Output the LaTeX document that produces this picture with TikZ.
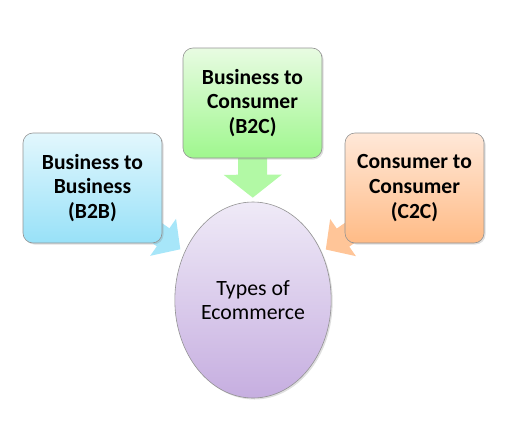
\documentclass[tikz,border=0pt]{standalone}
\usepackage{fontspec}
\setmainfont{Carlito}
\usetikzlibrary{positioning,shapes.geometric,arrows.meta,backgrounds,shadows}
\definecolor{btobtop}{HTML}{E2F7FD}
\definecolor{btobbot}{HTML}{98E1F8}
\definecolor{btoctop}{HTML}{E8FBE2}
\definecolor{btocbot}{HTML}{9FF78E}
\definecolor{ctoctop}{HTML}{FFE8D8}
\definecolor{ctocbot}{HTML}{FFBB86}
\definecolor{ecomtop}{HTML}{EFEAF7}
\definecolor{ecombot}{HTML}{C6AEE0}
\tikzset{
  module/.style={align=center, draw=gray!85, line width=0.6pt, drop shadow={shadow xshift=1.5pt, shadow yshift=-1.5pt, opacity=0.25, fill=gray}},
  type module/.style={module, rounded corners=10pt, minimum width=139pt, minimum height=110pt, font=\bfseries\fontsize{21.6}{24.8}\selectfont},
  center module/.style={module, ellipse, minimum width=154pt, minimum height=196pt, font=\fontsize{21.8}{24}\selectfont, top color=ecomtop, bottom color=ecombot},
  flow arrow/.style={line width=#1, shorten >=5pt},
  flow arrow/.default=22pt,
}
\begin{document}
\begin{tikzpicture}[x=1pt,y=-1pt]
\useasboundingbox (0,0) rectangle (510,423);
%the nodes
\node[center module] (mEcom) at (253,300) {Types of\\Ecommerce};
\node[type module, top color=btobtop, bottom color=btobbot] (mB2B) at (92.5,188) {Business to\\Business\\(B2B)};
\node[type module, top color=btoctop, bottom color=btocbot] (mB2C) at (252.5,103) {Business to\\Consumer\\(B2C)};
\node[type module, top color=ctoctop, bottom color=ctocbot] (mC2C) at (414.5,188) {Consumer to\\Consumer\\(C2C)};
%drawings of arrows
\begin{scope}[on background layer]
\draw[flow arrow=29pt, color=btocbot!80!white, shorten >=4pt, -{Triangle[width=57pt,length=23pt]}] (mB2C.center) -- (mEcom);
\draw[flow arrow, color=btobbot!85!white, -{Triangle[width=44pt,length=21pt]}] (mB2B.center) -- (mEcom);
\draw[flow arrow, color=ctocbot!85!white, -{Triangle[width=44pt,length=21pt]}] (mC2C.center) -- (mEcom);
\end{scope}
\end{tikzpicture}
\end{document}
